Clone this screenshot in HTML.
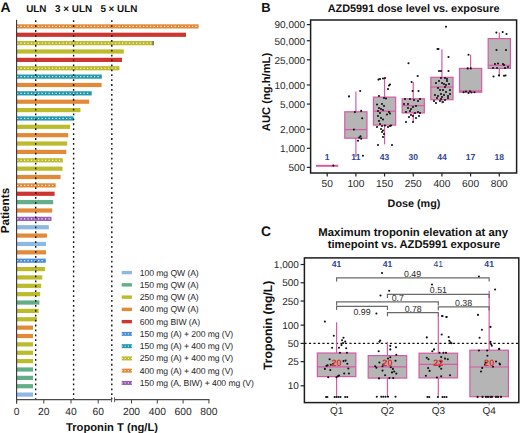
<!DOCTYPE html>
<html><head><meta charset="utf-8"><style>
html,body{margin:0;padding:0;background:#fff;width:520px;height:433px;overflow:hidden;}
svg{display:block;font-family:"Liberation Sans",sans-serif;text-rendering:geometricPrecision;}
</style></head><body>
<svg width="520" height="433" viewBox="0 0 520 433" font-family="Liberation Sans, sans-serif"><text x="0.4" y="11.9" font-size="14" font-weight="bold" fill="#111">A</text>
<text x="36.3" y="12.4" font-size="9.9" font-weight="bold" text-anchor="middle" fill="#111">ULN</text>
<text x="73.6" y="12.4" font-size="9.9" font-weight="bold" text-anchor="middle" fill="#111">3 × ULN</text>
<text x="118.9" y="12.4" font-size="9.9" font-weight="bold" text-anchor="middle" fill="#111">5 × ULN</text>
<rect x="16.6" y="24.30" width="182.00" height="4.2" fill="#E28A38"/>
<g fill="#fff" opacity="0.9"><rect x="17.00" y="25.80" width="1.2" height="1.2"/><rect x="20.50" y="25.80" width="1.2" height="1.2"/><rect x="24.00" y="25.80" width="1.2" height="1.2"/><rect x="27.50" y="25.80" width="1.2" height="1.2"/><rect x="31.00" y="25.80" width="1.2" height="1.2"/><rect x="34.50" y="25.80" width="1.2" height="1.2"/><rect x="38.00" y="25.80" width="1.2" height="1.2"/><rect x="41.50" y="25.80" width="1.2" height="1.2"/><rect x="45.00" y="25.80" width="1.2" height="1.2"/><rect x="48.50" y="25.80" width="1.2" height="1.2"/><rect x="52.00" y="25.80" width="1.2" height="1.2"/><rect x="55.50" y="25.80" width="1.2" height="1.2"/><rect x="59.00" y="25.80" width="1.2" height="1.2"/><rect x="62.50" y="25.80" width="1.2" height="1.2"/><rect x="66.00" y="25.80" width="1.2" height="1.2"/><rect x="69.50" y="25.80" width="1.2" height="1.2"/><rect x="73.00" y="25.80" width="1.2" height="1.2"/><rect x="76.50" y="25.80" width="1.2" height="1.2"/><rect x="80.00" y="25.80" width="1.2" height="1.2"/><rect x="83.50" y="25.80" width="1.2" height="1.2"/><rect x="87.00" y="25.80" width="1.2" height="1.2"/><rect x="90.50" y="25.80" width="1.2" height="1.2"/><rect x="94.00" y="25.80" width="1.2" height="1.2"/><rect x="97.50" y="25.80" width="1.2" height="1.2"/><rect x="101.00" y="25.80" width="1.2" height="1.2"/><rect x="104.50" y="25.80" width="1.2" height="1.2"/><rect x="108.00" y="25.80" width="1.2" height="1.2"/><rect x="111.50" y="25.80" width="1.2" height="1.2"/><rect x="115.00" y="25.80" width="1.2" height="1.2"/><rect x="118.50" y="25.80" width="1.2" height="1.2"/><rect x="122.00" y="25.80" width="1.2" height="1.2"/><rect x="125.50" y="25.80" width="1.2" height="1.2"/><rect x="129.00" y="25.80" width="1.2" height="1.2"/><rect x="132.50" y="25.80" width="1.2" height="1.2"/><rect x="136.00" y="25.80" width="1.2" height="1.2"/><rect x="139.50" y="25.80" width="1.2" height="1.2"/><rect x="143.00" y="25.80" width="1.2" height="1.2"/><rect x="146.50" y="25.80" width="1.2" height="1.2"/><rect x="150.00" y="25.80" width="1.2" height="1.2"/><rect x="153.50" y="25.80" width="1.2" height="1.2"/><rect x="157.00" y="25.80" width="1.2" height="1.2"/><rect x="160.50" y="25.80" width="1.2" height="1.2"/><rect x="164.00" y="25.80" width="1.2" height="1.2"/><rect x="167.50" y="25.80" width="1.2" height="1.2"/><rect x="171.00" y="25.80" width="1.2" height="1.2"/><rect x="174.50" y="25.80" width="1.2" height="1.2"/><rect x="178.00" y="25.80" width="1.2" height="1.2"/><rect x="181.50" y="25.80" width="1.2" height="1.2"/><rect x="185.00" y="25.80" width="1.2" height="1.2"/><rect x="188.50" y="25.80" width="1.2" height="1.2"/><rect x="192.00" y="25.80" width="1.2" height="1.2"/><rect x="195.50" y="25.80" width="1.2" height="1.2"/></g>
<rect x="16.6" y="32.67" width="169.40" height="4.2" fill="#CC3530"/>
<rect x="16.6" y="41.04" width="136.90" height="4.2" fill="#BCBB2B"/>
<g fill="#fff" opacity="0.9"><rect x="17.00" y="42.54" width="1.2" height="1.2"/><rect x="20.50" y="42.54" width="1.2" height="1.2"/><rect x="24.00" y="42.54" width="1.2" height="1.2"/><rect x="27.50" y="42.54" width="1.2" height="1.2"/><rect x="31.00" y="42.54" width="1.2" height="1.2"/><rect x="34.50" y="42.54" width="1.2" height="1.2"/><rect x="38.00" y="42.54" width="1.2" height="1.2"/><rect x="41.50" y="42.54" width="1.2" height="1.2"/><rect x="45.00" y="42.54" width="1.2" height="1.2"/><rect x="48.50" y="42.54" width="1.2" height="1.2"/><rect x="52.00" y="42.54" width="1.2" height="1.2"/><rect x="55.50" y="42.54" width="1.2" height="1.2"/><rect x="59.00" y="42.54" width="1.2" height="1.2"/><rect x="62.50" y="42.54" width="1.2" height="1.2"/><rect x="66.00" y="42.54" width="1.2" height="1.2"/><rect x="69.50" y="42.54" width="1.2" height="1.2"/><rect x="73.00" y="42.54" width="1.2" height="1.2"/><rect x="76.50" y="42.54" width="1.2" height="1.2"/><rect x="80.00" y="42.54" width="1.2" height="1.2"/><rect x="83.50" y="42.54" width="1.2" height="1.2"/><rect x="87.00" y="42.54" width="1.2" height="1.2"/><rect x="90.50" y="42.54" width="1.2" height="1.2"/><rect x="94.00" y="42.54" width="1.2" height="1.2"/><rect x="97.50" y="42.54" width="1.2" height="1.2"/><rect x="101.00" y="42.54" width="1.2" height="1.2"/><rect x="104.50" y="42.54" width="1.2" height="1.2"/><rect x="108.00" y="42.54" width="1.2" height="1.2"/><rect x="111.50" y="42.54" width="1.2" height="1.2"/><rect x="115.00" y="42.54" width="1.2" height="1.2"/><rect x="118.50" y="42.54" width="1.2" height="1.2"/><rect x="122.00" y="42.54" width="1.2" height="1.2"/><rect x="125.50" y="42.54" width="1.2" height="1.2"/><rect x="129.00" y="42.54" width="1.2" height="1.2"/><rect x="132.50" y="42.54" width="1.2" height="1.2"/><rect x="136.00" y="42.54" width="1.2" height="1.2"/><rect x="139.50" y="42.54" width="1.2" height="1.2"/><rect x="143.00" y="42.54" width="1.2" height="1.2"/><rect x="146.50" y="42.54" width="1.2" height="1.2"/><rect x="150.00" y="42.54" width="1.2" height="1.2"/></g>
<rect x="16.6" y="49.40" width="107.20" height="4.2" fill="#BCBB2B"/>
<rect x="16.6" y="57.77" width="105.40" height="4.2" fill="#CC3530"/>
<rect x="16.6" y="66.14" width="102.80" height="4.2" fill="#BCBB2B"/>
<g fill="#fff" opacity="0.9"><rect x="17.00" y="67.64" width="1.2" height="1.2"/><rect x="20.50" y="67.64" width="1.2" height="1.2"/><rect x="24.00" y="67.64" width="1.2" height="1.2"/><rect x="27.50" y="67.64" width="1.2" height="1.2"/><rect x="31.00" y="67.64" width="1.2" height="1.2"/><rect x="34.50" y="67.64" width="1.2" height="1.2"/><rect x="38.00" y="67.64" width="1.2" height="1.2"/><rect x="41.50" y="67.64" width="1.2" height="1.2"/><rect x="45.00" y="67.64" width="1.2" height="1.2"/><rect x="48.50" y="67.64" width="1.2" height="1.2"/><rect x="52.00" y="67.64" width="1.2" height="1.2"/><rect x="55.50" y="67.64" width="1.2" height="1.2"/><rect x="59.00" y="67.64" width="1.2" height="1.2"/><rect x="62.50" y="67.64" width="1.2" height="1.2"/><rect x="66.00" y="67.64" width="1.2" height="1.2"/><rect x="69.50" y="67.64" width="1.2" height="1.2"/><rect x="73.00" y="67.64" width="1.2" height="1.2"/><rect x="76.50" y="67.64" width="1.2" height="1.2"/><rect x="80.00" y="67.64" width="1.2" height="1.2"/><rect x="83.50" y="67.64" width="1.2" height="1.2"/><rect x="87.00" y="67.64" width="1.2" height="1.2"/><rect x="90.50" y="67.64" width="1.2" height="1.2"/><rect x="94.00" y="67.64" width="1.2" height="1.2"/><rect x="97.50" y="67.64" width="1.2" height="1.2"/><rect x="101.00" y="67.64" width="1.2" height="1.2"/><rect x="104.50" y="67.64" width="1.2" height="1.2"/><rect x="108.00" y="67.64" width="1.2" height="1.2"/><rect x="111.50" y="67.64" width="1.2" height="1.2"/><rect x="115.00" y="67.64" width="1.2" height="1.2"/></g>
<rect x="16.6" y="74.51" width="85.20" height="4.2" fill="#2399AE"/>
<g fill="#fff" opacity="0.9"><rect x="17.00" y="76.01" width="1.2" height="1.2"/><rect x="20.50" y="76.01" width="1.2" height="1.2"/><rect x="24.00" y="76.01" width="1.2" height="1.2"/><rect x="27.50" y="76.01" width="1.2" height="1.2"/><rect x="31.00" y="76.01" width="1.2" height="1.2"/><rect x="34.50" y="76.01" width="1.2" height="1.2"/><rect x="38.00" y="76.01" width="1.2" height="1.2"/><rect x="41.50" y="76.01" width="1.2" height="1.2"/><rect x="45.00" y="76.01" width="1.2" height="1.2"/><rect x="48.50" y="76.01" width="1.2" height="1.2"/><rect x="52.00" y="76.01" width="1.2" height="1.2"/><rect x="55.50" y="76.01" width="1.2" height="1.2"/><rect x="59.00" y="76.01" width="1.2" height="1.2"/><rect x="62.50" y="76.01" width="1.2" height="1.2"/><rect x="66.00" y="76.01" width="1.2" height="1.2"/><rect x="69.50" y="76.01" width="1.2" height="1.2"/><rect x="73.00" y="76.01" width="1.2" height="1.2"/><rect x="76.50" y="76.01" width="1.2" height="1.2"/><rect x="80.00" y="76.01" width="1.2" height="1.2"/><rect x="83.50" y="76.01" width="1.2" height="1.2"/><rect x="87.00" y="76.01" width="1.2" height="1.2"/><rect x="90.50" y="76.01" width="1.2" height="1.2"/><rect x="94.00" y="76.01" width="1.2" height="1.2"/><rect x="97.50" y="76.01" width="1.2" height="1.2"/></g>
<rect x="16.6" y="82.88" width="85.00" height="4.2" fill="#E28A38"/>
<rect x="16.6" y="91.24" width="75.10" height="4.2" fill="#2399AE"/>
<g fill="#fff" opacity="0.9"><rect x="17.00" y="92.74" width="1.2" height="1.2"/><rect x="20.50" y="92.74" width="1.2" height="1.2"/><rect x="24.00" y="92.74" width="1.2" height="1.2"/><rect x="27.50" y="92.74" width="1.2" height="1.2"/><rect x="31.00" y="92.74" width="1.2" height="1.2"/><rect x="34.50" y="92.74" width="1.2" height="1.2"/><rect x="38.00" y="92.74" width="1.2" height="1.2"/><rect x="41.50" y="92.74" width="1.2" height="1.2"/><rect x="45.00" y="92.74" width="1.2" height="1.2"/><rect x="48.50" y="92.74" width="1.2" height="1.2"/><rect x="52.00" y="92.74" width="1.2" height="1.2"/><rect x="55.50" y="92.74" width="1.2" height="1.2"/><rect x="59.00" y="92.74" width="1.2" height="1.2"/><rect x="62.50" y="92.74" width="1.2" height="1.2"/><rect x="66.00" y="92.74" width="1.2" height="1.2"/><rect x="69.50" y="92.74" width="1.2" height="1.2"/><rect x="73.00" y="92.74" width="1.2" height="1.2"/><rect x="76.50" y="92.74" width="1.2" height="1.2"/><rect x="80.00" y="92.74" width="1.2" height="1.2"/><rect x="83.50" y="92.74" width="1.2" height="1.2"/><rect x="87.00" y="92.74" width="1.2" height="1.2"/></g>
<rect x="16.6" y="99.61" width="72.60" height="4.2" fill="#E28A38"/>
<rect x="16.6" y="107.98" width="63.80" height="4.2" fill="#BCBB2B"/>
<rect x="16.6" y="116.35" width="56.90" height="4.2" fill="#2399AE"/>
<g fill="#fff" opacity="0.9"><rect x="17.00" y="117.85" width="1.2" height="1.2"/><rect x="20.50" y="117.85" width="1.2" height="1.2"/><rect x="24.00" y="117.85" width="1.2" height="1.2"/><rect x="27.50" y="117.85" width="1.2" height="1.2"/><rect x="31.00" y="117.85" width="1.2" height="1.2"/><rect x="34.50" y="117.85" width="1.2" height="1.2"/><rect x="38.00" y="117.85" width="1.2" height="1.2"/><rect x="41.50" y="117.85" width="1.2" height="1.2"/><rect x="45.00" y="117.85" width="1.2" height="1.2"/><rect x="48.50" y="117.85" width="1.2" height="1.2"/><rect x="52.00" y="117.85" width="1.2" height="1.2"/><rect x="55.50" y="117.85" width="1.2" height="1.2"/><rect x="59.00" y="117.85" width="1.2" height="1.2"/><rect x="62.50" y="117.85" width="1.2" height="1.2"/><rect x="66.00" y="117.85" width="1.2" height="1.2"/><rect x="69.50" y="117.85" width="1.2" height="1.2"/></g>
<rect x="16.6" y="124.72" width="53.40" height="4.2" fill="#BCBB2B"/>
<rect x="16.6" y="133.08" width="51.60" height="4.2" fill="#E28A38"/>
<rect x="16.6" y="141.45" width="50.60" height="4.2" fill="#BCBB2B"/>
<rect x="16.6" y="149.82" width="49.60" height="4.2" fill="#E28A38"/>
<rect x="16.6" y="158.19" width="46.20" height="4.2" fill="#BCBB2B"/>
<g fill="#fff" opacity="0.9"><rect x="17.00" y="159.69" width="1.2" height="1.2"/><rect x="20.50" y="159.69" width="1.2" height="1.2"/><rect x="24.00" y="159.69" width="1.2" height="1.2"/><rect x="27.50" y="159.69" width="1.2" height="1.2"/><rect x="31.00" y="159.69" width="1.2" height="1.2"/><rect x="34.50" y="159.69" width="1.2" height="1.2"/><rect x="38.00" y="159.69" width="1.2" height="1.2"/><rect x="41.50" y="159.69" width="1.2" height="1.2"/><rect x="45.00" y="159.69" width="1.2" height="1.2"/><rect x="48.50" y="159.69" width="1.2" height="1.2"/><rect x="52.00" y="159.69" width="1.2" height="1.2"/><rect x="55.50" y="159.69" width="1.2" height="1.2"/><rect x="59.00" y="159.69" width="1.2" height="1.2"/></g>
<rect x="16.6" y="166.56" width="45.90" height="4.2" fill="#BCBB2B"/>
<rect x="16.6" y="174.92" width="44.00" height="4.2" fill="#E28A38"/>
<rect x="16.6" y="183.29" width="39.10" height="4.2" fill="#E28A38"/>
<g fill="#fff" opacity="0.9"><rect x="17.00" y="184.79" width="1.2" height="1.2"/><rect x="20.50" y="184.79" width="1.2" height="1.2"/><rect x="24.00" y="184.79" width="1.2" height="1.2"/><rect x="27.50" y="184.79" width="1.2" height="1.2"/><rect x="31.00" y="184.79" width="1.2" height="1.2"/><rect x="34.50" y="184.79" width="1.2" height="1.2"/><rect x="38.00" y="184.79" width="1.2" height="1.2"/><rect x="41.50" y="184.79" width="1.2" height="1.2"/><rect x="45.00" y="184.79" width="1.2" height="1.2"/><rect x="48.50" y="184.79" width="1.2" height="1.2"/><rect x="52.00" y="184.79" width="1.2" height="1.2"/></g>
<rect x="16.6" y="191.66" width="38.00" height="4.2" fill="#CC3530"/>
<rect x="16.6" y="200.03" width="36.60" height="4.2" fill="#62AE86"/>
<rect x="16.6" y="208.40" width="35.60" height="4.2" fill="#E28A38"/>
<rect x="16.6" y="216.76" width="34.90" height="4.2" fill="#9A5DB6"/>
<g fill="#fff" opacity="0.9"><rect x="17.00" y="218.26" width="1.2" height="1.2"/><rect x="20.50" y="218.26" width="1.2" height="1.2"/><rect x="24.00" y="218.26" width="1.2" height="1.2"/><rect x="27.50" y="218.26" width="1.2" height="1.2"/><rect x="31.00" y="218.26" width="1.2" height="1.2"/><rect x="34.50" y="218.26" width="1.2" height="1.2"/><rect x="38.00" y="218.26" width="1.2" height="1.2"/><rect x="41.50" y="218.26" width="1.2" height="1.2"/><rect x="45.00" y="218.26" width="1.2" height="1.2"/><rect x="48.50" y="218.26" width="1.2" height="1.2"/></g>
<rect x="16.6" y="225.13" width="32.20" height="4.2" fill="#8DB8E4"/>
<rect x="16.6" y="233.50" width="30.30" height="4.2" fill="#E28A38"/>
<rect x="16.6" y="241.87" width="29.40" height="4.2" fill="#8DB8E4"/>
<rect x="16.6" y="250.24" width="29.40" height="4.2" fill="#E28A38"/>
<rect x="16.6" y="258.60" width="29.20" height="4.2" fill="#4C8FD8"/>
<g fill="#fff" opacity="0.9"><rect x="17.00" y="260.10" width="1.2" height="1.2"/><rect x="20.50" y="260.10" width="1.2" height="1.2"/><rect x="24.00" y="260.10" width="1.2" height="1.2"/><rect x="27.50" y="260.10" width="1.2" height="1.2"/><rect x="31.00" y="260.10" width="1.2" height="1.2"/><rect x="34.50" y="260.10" width="1.2" height="1.2"/><rect x="38.00" y="260.10" width="1.2" height="1.2"/><rect x="41.50" y="260.10" width="1.2" height="1.2"/></g>
<rect x="16.6" y="266.97" width="28.30" height="4.2" fill="#BCBB2B"/>
<rect x="16.6" y="275.34" width="25.70" height="4.2" fill="#BCBB2B"/>
<rect x="16.6" y="283.71" width="24.60" height="4.2" fill="#BCBB2B"/>
<rect x="16.6" y="292.08" width="23.60" height="4.2" fill="#BCBB2B"/>
<rect x="16.6" y="300.44" width="22.80" height="4.2" fill="#62AE86"/>
<rect x="16.6" y="308.81" width="22.00" height="4.2" fill="#BCBB2B"/>
<rect x="16.6" y="317.18" width="20.30" height="4.2" fill="#BCBB2B"/>
<rect x="16.6" y="325.55" width="16.40" height="4.2" fill="#E28A38"/>
<rect x="16.6" y="333.92" width="16.40" height="4.2" fill="#E28A38"/>
<rect x="16.6" y="342.28" width="16.40" height="4.2" fill="#BCBB2B"/>
<rect x="16.6" y="350.65" width="16.40" height="4.2" fill="#BCBB2B"/>
<rect x="16.6" y="359.02" width="16.40" height="4.2" fill="#BCBB2B"/>
<rect x="16.6" y="367.39" width="16.40" height="4.2" fill="#62AE86"/>
<rect x="16.6" y="375.76" width="16.40" height="4.2" fill="#62AE86"/>
<rect x="16.6" y="384.12" width="16.40" height="4.2" fill="#62AE86"/>
<rect x="16.6" y="392.49" width="16.40" height="4.2" fill="#8DB8E4"/>
<rect x="152.6" y="41.04" width="1.1" height="4.2" fill="#555"/>
<line x1="35.7" y1="20.3" x2="35.7" y2="399.2" stroke="#111" stroke-width="1.4" stroke-dasharray="1.8 3.108"/>
<line x1="73.6" y1="20.3" x2="73.6" y2="399.2" stroke="#111" stroke-width="1.4" stroke-dasharray="1.8 3.108"/>
<line x1="111.8" y1="20.3" x2="111.8" y2="399.2" stroke="#111" stroke-width="1.4" stroke-dasharray="1.8 3.108"/>
<line x1="16.6" y1="19.7" x2="16.6" y2="403.5" stroke="#333" stroke-width="1.1"/>
<line x1="16.6" y1="399.7" x2="111.4" y2="399.7" stroke="#4a4a4a" stroke-width="1.3"/>
<line x1="114.6" y1="399.7" x2="209.5" y2="399.7" stroke="#4a4a4a" stroke-width="1.3"/>
<line x1="111.6" y1="397.2" x2="111.6" y2="402.2" stroke="#444" stroke-width="0.9"/>
<line x1="114.6" y1="397.2" x2="114.6" y2="402.2" stroke="#444" stroke-width="0.9"/>
<line x1="16.6" y1="399.7" x2="16.6" y2="403.5" stroke="#444" stroke-width="1"/>
<text x="16.6" y="414.8" font-size="10.3" text-anchor="middle" fill="#282828">0</text>
<line x1="43.8" y1="399.7" x2="43.8" y2="403.5" stroke="#444" stroke-width="1"/>
<text x="43.8" y="414.8" font-size="10.3" text-anchor="middle" fill="#282828">20</text>
<line x1="71" y1="399.7" x2="71" y2="403.5" stroke="#444" stroke-width="1"/>
<text x="71" y="414.8" font-size="10.3" text-anchor="middle" fill="#282828">40</text>
<line x1="98.2" y1="399.7" x2="98.2" y2="403.5" stroke="#444" stroke-width="1"/>
<text x="98.2" y="414.8" font-size="10.3" text-anchor="middle" fill="#282828">60</text>
<line x1="131.5" y1="399.7" x2="131.5" y2="403.5" stroke="#444" stroke-width="1"/>
<text x="131.5" y="414.8" font-size="10.3" text-anchor="middle" fill="#282828">200</text>
<line x1="157.3" y1="399.7" x2="157.3" y2="403.5" stroke="#444" stroke-width="1"/>
<text x="157.3" y="414.8" font-size="10.3" text-anchor="middle" fill="#282828">400</text>
<line x1="183.1" y1="399.7" x2="183.1" y2="403.5" stroke="#444" stroke-width="1"/>
<text x="183.1" y="414.8" font-size="10.3" text-anchor="middle" fill="#282828">600</text>
<line x1="208.9" y1="399.7" x2="208.9" y2="403.5" stroke="#444" stroke-width="1"/>
<text x="208.9" y="414.8" font-size="10.3" text-anchor="middle" fill="#282828">800</text>
<text x="112" y="430.6" font-size="11.2" font-weight="bold" text-anchor="middle" fill="#111">Troponin T (ng/L)</text>
<text transform="translate(8.6,210.6) rotate(-90)" font-size="11.7" font-weight="bold" text-anchor="middle" fill="#111">Patients</text>
<rect x="121.7" y="270.90" width="10.2" height="3.4" fill="#8DB8E4"/>
<text x="139.8" y="275.65" font-size="8.65" letter-spacing="-0.08" fill="#282828">100 mg QW (A)</text>
<rect x="121.7" y="283.16" width="10.2" height="3.4" fill="#62AE86"/>
<text x="139.8" y="287.91" font-size="8.65" letter-spacing="-0.08" fill="#282828">150 mg QW (A)</text>
<rect x="121.7" y="295.42" width="10.2" height="3.4" fill="#BCBB2B"/>
<text x="139.8" y="300.17" font-size="8.65" letter-spacing="-0.08" fill="#282828">250 mg QW (A)</text>
<rect x="121.7" y="307.68" width="10.2" height="3.4" fill="#E28A38"/>
<text x="139.8" y="312.43" font-size="8.65" letter-spacing="-0.08" fill="#282828">400 mg QW (A)</text>
<rect x="121.7" y="319.94" width="10.2" height="3.4" fill="#CC3530"/>
<text x="139.8" y="324.69" font-size="8.65" letter-spacing="-0.08" fill="#282828">600 mg BIW (A)</text>
<rect x="121.7" y="331.90" width="10.2" height="4.0" fill="#4C8FD8"/>
<g fill="#fff" opacity="0.85"><rect x="121.70" y="333.35" width="1.1" height="1.1"/><rect x="124.60" y="333.35" width="1.1" height="1.1"/><rect x="127.90" y="333.35" width="1.1" height="1.1"/><rect x="131.10" y="333.35" width="1.1" height="1.1"/></g>
<text x="139.8" y="336.95" font-size="8.65" letter-spacing="-0.08" fill="#282828">150 mg (A) + 200 mg (V)</text>
<rect x="121.7" y="344.16" width="10.2" height="4.0" fill="#2399AE"/>
<g fill="#fff" opacity="0.85"><rect x="121.70" y="345.61" width="1.1" height="1.1"/><rect x="124.60" y="345.61" width="1.1" height="1.1"/><rect x="127.90" y="345.61" width="1.1" height="1.1"/><rect x="131.10" y="345.61" width="1.1" height="1.1"/></g>
<text x="139.8" y="349.21" font-size="8.65" letter-spacing="-0.08" fill="#282828">150 mg (A) + 400 mg (V)</text>
<rect x="121.7" y="356.42" width="10.2" height="4.0" fill="#BCBB2B"/>
<g fill="#fff" opacity="0.85"><rect x="121.70" y="357.87" width="1.1" height="1.1"/><rect x="124.60" y="357.87" width="1.1" height="1.1"/><rect x="127.90" y="357.87" width="1.1" height="1.1"/><rect x="131.10" y="357.87" width="1.1" height="1.1"/></g>
<text x="139.8" y="361.47" font-size="8.65" letter-spacing="-0.08" fill="#282828">250 mg (A) + 400 mg (V)</text>
<rect x="121.7" y="368.68" width="10.2" height="4.0" fill="#E28A38"/>
<g fill="#fff" opacity="0.85"><rect x="121.70" y="370.13" width="1.1" height="1.1"/><rect x="124.60" y="370.13" width="1.1" height="1.1"/><rect x="127.90" y="370.13" width="1.1" height="1.1"/><rect x="131.10" y="370.13" width="1.1" height="1.1"/></g>
<text x="139.8" y="373.73" font-size="8.65" letter-spacing="-0.08" fill="#282828">400 mg (A) + 400 mg (V)</text>
<rect x="121.7" y="380.94" width="10.2" height="4.0" fill="#9A5DB6"/>
<g fill="#fff" opacity="0.85"><rect x="121.70" y="382.39" width="1.1" height="1.1"/><rect x="124.60" y="382.39" width="1.1" height="1.1"/><rect x="127.90" y="382.39" width="1.1" height="1.1"/><rect x="131.10" y="382.39" width="1.1" height="1.1"/></g>
<text x="139.8" y="385.99" font-size="8.65" letter-spacing="-0.08" fill="#282828">150 mg (A, BIW) + 400 mg (V)</text>
<text x="261.2" y="12.2" font-size="13" font-weight="bold" fill="#111">B</text>
<text x="413.6" y="11.6" font-size="10.9" font-weight="bold" text-anchor="middle" fill="#111">AZD5991 dose level vs. exposure</text>
<line x1="315.8" y1="165.8" x2="338.3" y2="165.8" stroke="#D65AA4" stroke-width="2"/>
<line x1="355.88" y1="91.5" x2="355.88" y2="157" stroke="#D65AA4" stroke-width="1.2"/>
<rect x="344.78" y="111.8" width="22.2" height="26.40" fill="#B5B5B5" stroke="#D65AA4" stroke-width="1.2"/>
<line x1="344.78" y1="129.6" x2="366.98" y2="129.6" stroke="#D65AA4" stroke-width="1.2"/>
<line x1="384.56" y1="77.8" x2="384.56" y2="144.4" stroke="#D65AA4" stroke-width="1.2"/>
<rect x="373.46" y="97.1" width="22.2" height="28.00" fill="#B5B5B5" stroke="#D65AA4" stroke-width="1.2"/>
<line x1="373.46" y1="111.2" x2="395.66" y2="111.2" stroke="#D65AA4" stroke-width="1.2"/>
<line x1="413.24" y1="82" x2="413.24" y2="122" stroke="#D65AA4" stroke-width="1.2"/>
<rect x="402.14" y="98.8" width="22.2" height="14.10" fill="#B5B5B5" stroke="#D65AA4" stroke-width="1.2"/>
<line x1="402.14" y1="105.6" x2="424.34" y2="105.6" stroke="#D65AA4" stroke-width="1.2"/>
<line x1="441.92" y1="49.2" x2="441.92" y2="103.5" stroke="#D65AA4" stroke-width="1.2"/>
<rect x="430.82" y="77.3" width="22.2" height="22.40" fill="#B5B5B5" stroke="#D65AA4" stroke-width="1.2"/>
<line x1="430.82" y1="87.0" x2="453.02" y2="87.0" stroke="#D65AA4" stroke-width="1.2"/>
<line x1="470.60" y1="54.7" x2="470.60" y2="92.2" stroke="#D65AA4" stroke-width="1.2"/>
<rect x="459.50" y="68.4" width="22.2" height="23.80" fill="#B5B5B5" stroke="#D65AA4" stroke-width="1.2"/>
<line x1="459.50" y1="91.0" x2="481.70" y2="91.0" stroke="#D65AA4" stroke-width="1.2"/>
<line x1="499.28" y1="32.6" x2="499.28" y2="75.4" stroke="#D65AA4" stroke-width="1.2"/>
<rect x="488.18" y="38.6" width="22.2" height="29.80" fill="#B5B5B5" stroke="#D65AA4" stroke-width="1.2"/>
<line x1="488.18" y1="65.3" x2="510.38" y2="65.3" stroke="#D65AA4" stroke-width="1.2"/>
<g fill="#111"><circle cx="333.3" cy="165.6" r="1.05"/><circle cx="349" cy="96.4" r="1.05"/><circle cx="360.2" cy="91" r="1.05"/><circle cx="354.9" cy="112.1" r="1.05"/><circle cx="361.2" cy="110.9" r="1.05"/><circle cx="362.2" cy="118.2" r="1.05"/><circle cx="353.9" cy="129.6" r="1.05"/><circle cx="360.5" cy="136.4" r="1.05"/><circle cx="359.2" cy="137.6" r="1.05"/><circle cx="361.2" cy="138.8" r="1.05"/><circle cx="358" cy="140.7" r="1.05"/><circle cx="362.9" cy="155.8" r="1.05"/><circle cx="378.5" cy="79.6" r="1.05"/><circle cx="380" cy="79" r="1.05"/><circle cx="383" cy="78.5" r="1.05"/><circle cx="385" cy="78" r="1.05"/><circle cx="390" cy="84.5" r="1.05"/><circle cx="389" cy="85.5" r="1.05"/><circle cx="388" cy="89" r="1.05"/><circle cx="379" cy="96" r="1.05"/><circle cx="384" cy="98" r="1.05"/><circle cx="386" cy="98.5" r="1.05"/><circle cx="377" cy="104.5" r="1.05"/><circle cx="382" cy="104" r="1.05"/><circle cx="384" cy="106" r="1.05"/><circle cx="379" cy="108" r="1.05"/><circle cx="381" cy="109" r="1.05"/><circle cx="383" cy="110" r="1.05"/><circle cx="378" cy="111" r="1.05"/><circle cx="380" cy="113" r="1.05"/><circle cx="389" cy="112" r="1.05"/><circle cx="390" cy="113.5" r="1.05"/><circle cx="387" cy="114.5" r="1.05"/><circle cx="378" cy="116" r="1.05"/><circle cx="381" cy="118" r="1.05"/><circle cx="383" cy="119.5" r="1.05"/><circle cx="379" cy="121" r="1.05"/><circle cx="380" cy="124" r="1.05"/><circle cx="377" cy="127" r="1.05"/><circle cx="382" cy="126" r="1.05"/><circle cx="385" cy="125.5" r="1.05"/><circle cx="388" cy="127" r="1.05"/><circle cx="390" cy="126" r="1.05"/><circle cx="391" cy="125.5" r="1.05"/><circle cx="381" cy="129" r="1.05"/><circle cx="383" cy="130.5" r="1.05"/><circle cx="382" cy="132" r="1.05"/><circle cx="384" cy="134" r="1.05"/><circle cx="383" cy="137" r="1.05"/><circle cx="378" cy="145" r="1.05"/><circle cx="392" cy="145" r="1.05"/><circle cx="408.5" cy="63.3" r="1.05"/><circle cx="417.7" cy="76" r="1.05"/><circle cx="411.6" cy="82" r="1.05"/><circle cx="412.6" cy="91" r="1.05"/><circle cx="418.5" cy="91" r="1.05"/><circle cx="405" cy="99" r="1.05"/><circle cx="410" cy="99" r="1.05"/><circle cx="414" cy="100" r="1.05"/><circle cx="418" cy="101" r="1.05"/><circle cx="420" cy="99" r="1.05"/><circle cx="404" cy="104" r="1.05"/><circle cx="408" cy="104" r="1.05"/><circle cx="413" cy="107" r="1.05"/><circle cx="416" cy="106" r="1.05"/><circle cx="408" cy="108" r="1.05"/><circle cx="411" cy="109" r="1.05"/><circle cx="406" cy="112" r="1.05"/><circle cx="410" cy="111" r="1.05"/><circle cx="418" cy="112" r="1.05"/><circle cx="420" cy="113" r="1.05"/><circle cx="411" cy="115" r="1.05"/><circle cx="413" cy="116" r="1.05"/><circle cx="416" cy="118" r="1.05"/><circle cx="419" cy="116" r="1.05"/><circle cx="406" cy="122" r="1.05"/><circle cx="413" cy="122" r="1.05"/><circle cx="409" cy="117" r="1.05"/><circle cx="415" cy="113" r="1.05"/><circle cx="446" cy="26.8" r="1.05"/><circle cx="437.5" cy="49" r="1.05"/><circle cx="438.5" cy="49" r="1.05"/><circle cx="448.5" cy="57" r="1.05"/><circle cx="439" cy="71" r="1.05"/><circle cx="441" cy="71" r="1.05"/><circle cx="448.5" cy="71" r="1.05"/><circle cx="441" cy="78" r="1.05"/><circle cx="445" cy="78" r="1.05"/><circle cx="447" cy="79" r="1.05"/><circle cx="436" cy="83" r="1.05"/><circle cx="439" cy="81" r="1.05"/><circle cx="442" cy="83" r="1.05"/><circle cx="444" cy="84" r="1.05"/><circle cx="446" cy="85" r="1.05"/><circle cx="449" cy="84" r="1.05"/><circle cx="440" cy="90" r="1.05"/><circle cx="443" cy="90" r="1.05"/><circle cx="446" cy="92" r="1.05"/><circle cx="450" cy="90" r="1.05"/><circle cx="435" cy="95" r="1.05"/><circle cx="438" cy="96" r="1.05"/><circle cx="441" cy="94" r="1.05"/><circle cx="444" cy="95" r="1.05"/><circle cx="448" cy="96" r="1.05"/><circle cx="450" cy="94" r="1.05"/><circle cx="437" cy="98" r="1.05"/><circle cx="441" cy="99" r="1.05"/><circle cx="445" cy="100" r="1.05"/><circle cx="448" cy="98" r="1.05"/><circle cx="434" cy="101" r="1.05"/><circle cx="436" cy="103" r="1.05"/><circle cx="440" cy="101" r="1.05"/><circle cx="443" cy="102" r="1.05"/><circle cx="438" cy="88" r="1.05"/><circle cx="445" cy="87" r="1.05"/><circle cx="447" cy="81" r="1.05"/><circle cx="442" cy="97" r="1.05"/><circle cx="468.5" cy="54.7" r="1.05"/><circle cx="467.7" cy="68.4" r="1.05"/><circle cx="470.8" cy="68.4" r="1.05"/><circle cx="463.6" cy="92.2" r="1.05"/><circle cx="468.5" cy="93" r="1.05"/><circle cx="471.5" cy="92.5" r="1.05"/><circle cx="474.5" cy="92.2" r="1.05"/><circle cx="466" cy="91.5" r="1.05"/><circle cx="470" cy="91.2" r="1.05"/><circle cx="496.4" cy="32.6" r="1.05"/><circle cx="502.7" cy="32" r="1.05"/><circle cx="506.5" cy="34" r="1.05"/><circle cx="496.5" cy="50" r="1.05"/><circle cx="506" cy="50" r="1.05"/><circle cx="495" cy="64" r="1.05"/><circle cx="498" cy="63.5" r="1.05"/><circle cx="503" cy="64" r="1.05"/><circle cx="504" cy="65" r="1.05"/><circle cx="493" cy="68" r="1.05"/><circle cx="497" cy="68" r="1.05"/><circle cx="505" cy="68" r="1.05"/><circle cx="508" cy="67" r="1.05"/><circle cx="493.5" cy="76.5" r="1.05"/><circle cx="499" cy="75.4" r="1.05"/><circle cx="504" cy="75.8" r="1.05"/><circle cx="505.5" cy="75.5" r="1.05"/></g>
<rect x="310.6" y="20.0" width="206.0" height="153.0" fill="none" stroke="#1c1c1c" stroke-width="1.5"/>
<line x1="306.8" y1="24.60" x2="310.6" y2="24.60" stroke="#222" stroke-width="1.2"/>
<text x="305.1" y="28.40" font-size="10" text-anchor="end" fill="#282828">90,000</text>
<line x1="306.8" y1="40.76" x2="310.6" y2="40.76" stroke="#222" stroke-width="1.2"/>
<text x="305.1" y="44.56" font-size="10" text-anchor="end" fill="#282828">50,000</text>
<line x1="306.8" y1="59.81" x2="310.6" y2="59.81" stroke="#222" stroke-width="1.2"/>
<text x="305.1" y="63.61" font-size="10" text-anchor="end" fill="#282828">25,000</text>
<line x1="306.8" y1="85.00" x2="310.6" y2="85.00" stroke="#222" stroke-width="1.2"/>
<text x="305.1" y="88.80" font-size="10" text-anchor="end" fill="#282828">10,000</text>
<line x1="306.8" y1="104.06" x2="310.6" y2="104.06" stroke="#222" stroke-width="1.2"/>
<text x="305.1" y="107.86" font-size="10" text-anchor="end" fill="#282828">5,000</text>
<line x1="306.8" y1="129.24" x2="310.6" y2="129.24" stroke="#222" stroke-width="1.2"/>
<text x="305.1" y="133.04" font-size="10" text-anchor="end" fill="#282828">2,000</text>
<line x1="306.8" y1="148.30" x2="310.6" y2="148.30" stroke="#222" stroke-width="1.2"/>
<text x="305.1" y="152.10" font-size="10" text-anchor="end" fill="#282828">1,000</text>
<line x1="306.8" y1="167.36" x2="310.6" y2="167.36" stroke="#222" stroke-width="1.2"/>
<text x="305.1" y="171.16" font-size="10" text-anchor="end" fill="#282828">500</text>
<line x1="327.20" y1="173.0" x2="327.20" y2="176.5" stroke="#222" stroke-width="1.2"/>
<text x="327.20" y="186.6" font-size="10.2" text-anchor="middle" fill="#282828">50</text>
<text x="327.20" y="160.3" font-size="8.6" font-weight="bold" text-anchor="middle" fill="#2E4596">1</text>
<line x1="355.88" y1="173.0" x2="355.88" y2="176.5" stroke="#222" stroke-width="1.2"/>
<text x="355.88" y="186.6" font-size="10.2" text-anchor="middle" fill="#282828">100</text>
<text x="355.88" y="160.3" font-size="8.6" font-weight="bold" text-anchor="middle" fill="#2E4596">11</text>
<line x1="384.56" y1="173.0" x2="384.56" y2="176.5" stroke="#222" stroke-width="1.2"/>
<text x="384.56" y="186.6" font-size="10.2" text-anchor="middle" fill="#282828">150</text>
<text x="384.56" y="160.3" font-size="8.6" font-weight="bold" text-anchor="middle" fill="#2E4596">43</text>
<line x1="413.24" y1="173.0" x2="413.24" y2="176.5" stroke="#222" stroke-width="1.2"/>
<text x="413.24" y="186.6" font-size="10.2" text-anchor="middle" fill="#282828">250</text>
<text x="413.24" y="160.3" font-size="8.6" font-weight="bold" text-anchor="middle" fill="#2E4596">30</text>
<line x1="441.92" y1="173.0" x2="441.92" y2="176.5" stroke="#222" stroke-width="1.2"/>
<text x="441.92" y="186.6" font-size="10.2" text-anchor="middle" fill="#282828">400</text>
<text x="441.92" y="160.3" font-size="8.6" font-weight="bold" text-anchor="middle" fill="#2E4596">44</text>
<line x1="470.60" y1="173.0" x2="470.60" y2="176.5" stroke="#222" stroke-width="1.2"/>
<text x="470.60" y="186.6" font-size="10.2" text-anchor="middle" fill="#282828">600</text>
<text x="470.60" y="160.3" font-size="8.6" font-weight="bold" text-anchor="middle" fill="#2E4596">17</text>
<line x1="499.28" y1="173.0" x2="499.28" y2="176.5" stroke="#222" stroke-width="1.2"/>
<text x="499.28" y="186.6" font-size="10.2" text-anchor="middle" fill="#282828">800</text>
<text x="499.28" y="160.3" font-size="8.6" font-weight="bold" text-anchor="middle" fill="#2E4596">18</text>
<text x="414" y="206.9" font-size="10.8" font-weight="bold" text-anchor="middle" fill="#111">Dose (mg)</text>
<text transform="translate(270.2,92) rotate(-90)" font-size="11.2" font-weight="bold" text-anchor="middle" fill="#111">AUC (ng.h/mL)</text>
<text x="261.1" y="235.9" font-size="13.8" font-weight="bold" fill="#111">C</text>
<text x="413.2" y="235.8" font-size="11.35" font-weight="bold" text-anchor="middle" fill="#111">Maximum troponin elevation at any</text>
<text x="414" y="247.6" font-size="11.2" font-weight="bold" text-anchor="middle" fill="#111">timepoint vs. AZD5991 exposure</text>
<line x1="304.4" y1="343.3" x2="518.8" y2="343.3" stroke="#111" stroke-width="1.2" stroke-dasharray="2.2 2.3"/>
<line x1="336.60" y1="322.3" x2="336.60" y2="397" stroke="#D65AA4" stroke-width="1.2"/>
<rect x="317.35" y="353" width="38.5" height="23.60" fill="#B5B5B5" stroke="#D65AA4" stroke-width="1.2"/>
<line x1="317.35" y1="366.9" x2="355.85" y2="366.9" stroke="#D65AA4" stroke-width="1.2"/>
<line x1="387.45" y1="341.8" x2="387.45" y2="397" stroke="#D65AA4" stroke-width="1.2"/>
<rect x="368.20" y="355.6" width="38.5" height="22.50" fill="#B5B5B5" stroke="#D65AA4" stroke-width="1.2"/>
<line x1="368.20" y1="366.8" x2="406.70" y2="366.8" stroke="#D65AA4" stroke-width="1.2"/>
<line x1="438.30" y1="315.5" x2="438.30" y2="397" stroke="#D65AA4" stroke-width="1.2"/>
<rect x="419.05" y="353.2" width="38.5" height="24.70" fill="#B5B5B5" stroke="#D65AA4" stroke-width="1.2"/>
<line x1="419.05" y1="364.3" x2="457.55" y2="364.3" stroke="#D65AA4" stroke-width="1.2"/>
<line x1="489.15" y1="290.7" x2="489.15" y2="396.9" stroke="#D65AA4" stroke-width="1.2"/>
<rect x="469.90" y="350.2" width="38.5" height="46.50" fill="#B5B5B5" stroke="#D65AA4" stroke-width="1.2"/>
<line x1="469.90" y1="367" x2="508.40" y2="367" stroke="#D65AA4" stroke-width="1.2"/>
<g fill="#111"><circle cx="324.9" cy="321.6" r="1.05"/><circle cx="333.8" cy="335.7" r="1.05"/><circle cx="343.5" cy="337.8" r="1.05"/><circle cx="342.1" cy="340.3" r="1.05"/><circle cx="345.2" cy="341.6" r="1.05"/><circle cx="343.1" cy="343" r="1.05"/><circle cx="341.5" cy="345.1" r="1.05"/><circle cx="332.1" cy="347.8" r="1.05"/><circle cx="339.0" cy="347.8" r="1.05"/><circle cx="346.2" cy="348.2" r="1.05"/><circle cx="340.0" cy="352.8" r="1.05"/><circle cx="346.9" cy="352.8" r="1.05"/><circle cx="329.6" cy="359.2" r="1.05"/><circle cx="343.5" cy="361.1" r="1.05"/><circle cx="345.6" cy="360.6" r="1.05"/><circle cx="327.6" cy="365.4" r="1.05"/><circle cx="326.5" cy="365.8" r="1.05"/><circle cx="330.7" cy="364.8" r="1.05"/><circle cx="333.2" cy="363.8" r="1.05"/><circle cx="347.3" cy="363.8" r="1.05"/><circle cx="324.9" cy="368.9" r="1.05"/><circle cx="330.3" cy="370" r="1.05"/><circle cx="348.3" cy="368.5" r="1.05"/><circle cx="328.2" cy="377.2" r="1.05"/><circle cx="336.5" cy="377.2" r="1.05"/><circle cx="337.9" cy="376.2" r="1.05"/><circle cx="339.0" cy="375.6" r="1.05"/><circle cx="344.2" cy="373.5" r="1.05"/><circle cx="348.9" cy="373.5" r="1.05"/><circle cx="326.1" cy="397" r="1.05"/><circle cx="327.4" cy="397" r="1.05"/><circle cx="334.6" cy="397" r="1.05"/><circle cx="336.5" cy="397" r="1.05"/><circle cx="338.5" cy="397" r="1.05"/><circle cx="340.5" cy="397" r="1.05"/><circle cx="345.2" cy="397" r="1.05"/><circle cx="347.3" cy="397" r="1.05"/><circle cx="379.4" cy="341.8" r="1.05"/><circle cx="380.2" cy="340.5" r="1.05"/><circle cx="390.3" cy="345.9" r="1.05"/><circle cx="390.3" cy="349.4" r="1.05"/><circle cx="396.0" cy="347.3" r="1.05"/><circle cx="378.7" cy="351.3" r="1.05"/><circle cx="396.3" cy="354.7" r="1.05"/><circle cx="390.3" cy="357.3" r="1.05"/><circle cx="388.0" cy="358.5" r="1.05"/><circle cx="395.5" cy="360.8" r="1.05"/><circle cx="379.4" cy="362.5" r="1.05"/><circle cx="383.3" cy="364.6" r="1.05"/><circle cx="382.5" cy="366.3" r="1.05"/><circle cx="375.2" cy="366.3" r="1.05"/><circle cx="376.4" cy="367.7" r="1.05"/><circle cx="390.8" cy="367.2" r="1.05"/><circle cx="392.9" cy="368.9" r="1.05"/><circle cx="382.5" cy="370.6" r="1.05"/><circle cx="392.0" cy="372.4" r="1.05"/><circle cx="394.2" cy="371.5" r="1.05"/><circle cx="396.3" cy="373.6" r="1.05"/><circle cx="385.1" cy="375.3" r="1.05"/><circle cx="379.0" cy="378.4" r="1.05"/><circle cx="389.4" cy="378.1" r="1.05"/><circle cx="393.2" cy="378.1" r="1.05"/><circle cx="376.8" cy="396.8" r="1.05"/><circle cx="381.3" cy="396.8" r="1.05"/><circle cx="383.3" cy="396.8" r="1.05"/><circle cx="385.5" cy="396.8" r="1.05"/><circle cx="388.0" cy="396.8" r="1.05"/><circle cx="395.5" cy="396.8" r="1.05"/><circle cx="442.1" cy="316.1" r="1.05"/><circle cx="446.5" cy="317" r="1.05"/><circle cx="441.7" cy="334.5" r="1.05"/><circle cx="426.8" cy="337.4" r="1.05"/><circle cx="448.7" cy="337" r="1.05"/><circle cx="449.3" cy="340.7" r="1.05"/><circle cx="450.4" cy="342.4" r="1.05"/><circle cx="451.5" cy="343.3" r="1.05"/><circle cx="434.0" cy="349.4" r="1.05"/><circle cx="432.3" cy="351.2" r="1.05"/><circle cx="439.5" cy="352.7" r="1.05"/><circle cx="443.4" cy="352.7" r="1.05"/><circle cx="446.0" cy="352.7" r="1.05"/><circle cx="426.8" cy="357.8" r="1.05"/><circle cx="428.5" cy="359.3" r="1.05"/><circle cx="441.2" cy="357.1" r="1.05"/><circle cx="445.0" cy="358.6" r="1.05"/><circle cx="447.8" cy="359.3" r="1.05"/><circle cx="440.6" cy="361.5" r="1.05"/><circle cx="428.1" cy="368.1" r="1.05"/><circle cx="429.6" cy="370.9" r="1.05"/><circle cx="439.5" cy="366.5" r="1.05"/><circle cx="441.2" cy="368.7" r="1.05"/><circle cx="425.9" cy="375.7" r="1.05"/><circle cx="436.9" cy="377.5" r="1.05"/><circle cx="441.2" cy="376.2" r="1.05"/><circle cx="450.0" cy="375.3" r="1.05"/><circle cx="427.4" cy="397" r="1.05"/><circle cx="429.2" cy="397" r="1.05"/><circle cx="437.9" cy="397" r="1.05"/><circle cx="442.5" cy="397" r="1.05"/><circle cx="444.4" cy="397" r="1.05"/><circle cx="446.5" cy="397" r="1.05"/><circle cx="478.9" cy="276.6" r="1.05"/><circle cx="495.1" cy="289.5" r="1.05"/><circle cx="478.0" cy="314.9" r="1.05"/><circle cx="481.9" cy="329.7" r="1.05"/><circle cx="490.5" cy="326.9" r="1.05"/><circle cx="479.6" cy="337.8" r="1.05"/><circle cx="490.5" cy="341.9" r="1.05"/><circle cx="491.2" cy="344.2" r="1.05"/><circle cx="491.8" cy="345.8" r="1.05"/><circle cx="499.2" cy="348.9" r="1.05"/><circle cx="478.9" cy="350.5" r="1.05"/><circle cx="487.2" cy="350.5" r="1.05"/><circle cx="499.0" cy="349" r="1.05"/><circle cx="487.4" cy="355.8" r="1.05"/><circle cx="485.6" cy="362.5" r="1.05"/><circle cx="484.9" cy="364.5" r="1.05"/><circle cx="496.0" cy="361.5" r="1.05"/><circle cx="499.5" cy="363.5" r="1.05"/><circle cx="500.0" cy="364.5" r="1.05"/><circle cx="493.0" cy="366.8" r="1.05"/><circle cx="482.2" cy="367.9" r="1.05"/><circle cx="481.0" cy="371.5" r="1.05"/><circle cx="477.6" cy="396.9" r="1.05"/><circle cx="482.5" cy="396.9" r="1.05"/><circle cx="486.0" cy="396.9" r="1.05"/><circle cx="488.0" cy="396.9" r="1.05"/><circle cx="490.5" cy="396.9" r="1.05"/><circle cx="492.0" cy="396.9" r="1.05"/><circle cx="496.0" cy="396.9" r="1.05"/><circle cx="498.0" cy="396.9" r="1.05"/><circle cx="501.0" cy="396.9" r="1.05"/><circle cx="382.0" cy="273" r="1.05"/><circle cx="432.0" cy="284.5" r="1.05"/><circle cx="389.2" cy="290.7" r="1.05"/><circle cx="380.5" cy="295.5" r="1.05"/><circle cx="376.4" cy="313.5" r="1.05"/><circle cx="442.5" cy="316" r="1.05"/><circle cx="446.5" cy="317" r="1.05"/></g>
<text x="336.60" y="365.5" font-size="9.2" font-weight="bold" text-anchor="middle" fill="#D8322A">20</text>
<text x="387.45" y="365.5" font-size="9.2" font-weight="bold" text-anchor="middle" fill="#D8322A">20</text>
<text x="438.30" y="365.5" font-size="9.2" font-weight="bold" text-anchor="middle" fill="#D8322A">22</text>
<text x="489.15" y="365.5" font-size="9.2" font-weight="bold" text-anchor="middle" fill="#D8322A">20</text>
<path d="M336.6 281.5 V277.9 H489.15000000000003 V281.5" fill="none" stroke="#6a6a6a" stroke-width="1.2"/>
<path d="M387.45000000000005 297.90000000000003 V294.3 H489.15000000000003 V297.90000000000003" fill="none" stroke="#6a6a6a" stroke-width="1.2"/>
<path d="M336.6 305.5 V301.9 H438.3 V305.5" fill="none" stroke="#6a6a6a" stroke-width="1.2"/>
<path d="M336.6 310.0 V306.4 H387.45000000000005 V310.0" fill="none" stroke="#6a6a6a" stroke-width="1.2"/>
<path d="M438.3 310.40000000000003 V306.8 H489.15000000000003 V310.40000000000003" fill="none" stroke="#6a6a6a" stroke-width="1.2"/>
<path d="M387.45000000000005 316.3 V312.7 H438.3 V316.3" fill="none" stroke="#6a6a6a" stroke-width="1.2"/>
<text x="412.6" y="276.9" font-size="8.8" text-anchor="middle" fill="#2a2a2a">0.49</text>
<text x="438.4" y="293.1" font-size="8.8" text-anchor="middle" fill="#2a2a2a">0.51</text>
<text x="397.8" y="301.1" font-size="8.8" text-anchor="middle" fill="#2a2a2a">0.7</text>
<text x="362" y="314.9" font-size="8.8" text-anchor="middle" fill="#2a2a2a">0.99</text>
<text x="463.6" y="305.8" font-size="8.8" text-anchor="middle" fill="#2a2a2a">0.38</text>
<text x="413.2" y="311.6" font-size="8.8" text-anchor="middle" fill="#2a2a2a">0.78</text>
<text x="336.60" y="267.1" font-size="8.6" font-weight="bold" text-anchor="middle" fill="#2E4596">41</text>
<text x="387.45" y="267.1" font-size="8.6" font-weight="bold" text-anchor="middle" fill="#2E4596">41</text>
<text x="438.30" y="267.1" font-size="8.6" font-weight="normal" text-anchor="middle" fill="#2E4596">41</text>
<text x="489.15" y="267.1" font-size="8.6" font-weight="bold" text-anchor="middle" fill="#2E4596">41</text>
<rect x="304.4" y="257.9" width="214.39999999999998" height="144.70000000000005" fill="none" stroke="#1c1c1c" stroke-width="1.5"/>
<line x1="300.59999999999997" y1="264.50" x2="304.4" y2="264.50" stroke="#222" stroke-width="1.2"/>
<text x="298.9" y="268.00" font-size="10" text-anchor="end" fill="#282828">1,000</text>
<line x1="300.59999999999997" y1="282.76" x2="304.4" y2="282.76" stroke="#222" stroke-width="1.2"/>
<text x="298.9" y="286.26" font-size="10" text-anchor="end" fill="#282828">500</text>
<line x1="300.59999999999997" y1="301.01" x2="304.4" y2="301.01" stroke="#222" stroke-width="1.2"/>
<text x="298.9" y="304.51" font-size="10" text-anchor="end" fill="#282828">250</text>
<line x1="300.59999999999997" y1="325.15" x2="304.4" y2="325.15" stroke="#222" stroke-width="1.2"/>
<text x="298.9" y="328.65" font-size="10" text-anchor="end" fill="#282828">100</text>
<line x1="300.59999999999997" y1="343.41" x2="304.4" y2="343.41" stroke="#222" stroke-width="1.2"/>
<text x="298.9" y="346.91" font-size="10" text-anchor="end" fill="#282828">50</text>
<line x1="300.59999999999997" y1="361.66" x2="304.4" y2="361.66" stroke="#222" stroke-width="1.2"/>
<text x="298.9" y="365.16" font-size="10" text-anchor="end" fill="#282828">25</text>
<line x1="300.59999999999997" y1="385.80" x2="304.4" y2="385.80" stroke="#222" stroke-width="1.2"/>
<text x="298.9" y="389.30" font-size="10" text-anchor="end" fill="#282828">10</text>
<line x1="336.60" y1="402.6" x2="336.60" y2="405.20000000000005" stroke="#777" stroke-width="0.9"/>
<text x="336.60" y="414.3" font-size="10" text-anchor="middle" fill="#282828">Q1</text>
<line x1="387.45" y1="402.6" x2="387.45" y2="405.20000000000005" stroke="#777" stroke-width="0.9"/>
<text x="387.45" y="414.3" font-size="10" text-anchor="middle" fill="#282828">Q2</text>
<line x1="438.30" y1="402.6" x2="438.30" y2="405.20000000000005" stroke="#777" stroke-width="0.9"/>
<text x="438.30" y="414.3" font-size="10" text-anchor="middle" fill="#282828">Q3</text>
<line x1="489.15" y1="402.6" x2="489.15" y2="405.20000000000005" stroke="#777" stroke-width="0.9"/>
<text x="489.15" y="414.3" font-size="10" text-anchor="middle" fill="#282828">Q4</text>
<text transform="translate(271.6,325.3) rotate(-90)" font-size="12.2" font-weight="bold" text-anchor="middle" fill="#111">Troponin (ng/L)</text></svg>
</body></html>
